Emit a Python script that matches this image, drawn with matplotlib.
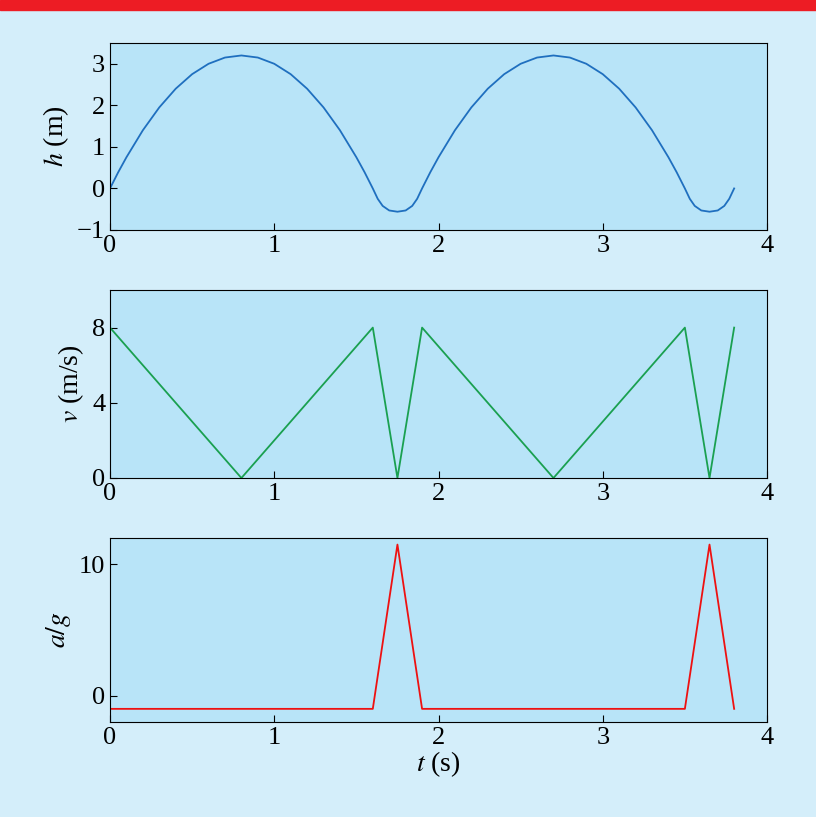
import matplotlib
matplotlib.use("Agg")
import matplotlib.pyplot as plt

t_h = [0,0.05,0.1,0.2,0.3,0.4,0.5,0.6,0.7,0.8,0.9,1.0,1.1,1.2,1.3,1.4,1.5,1.55,1.6,1.63,1.66,1.7,1.75,1.8,1.84,1.87,1.9,
       1.95,2.0,2.1,2.2,2.3,2.4,2.5,2.6,2.7,2.8,2.9,3.0,3.1,3.2,3.3,3.4,3.45,3.5,3.53,3.56,3.6,3.65,3.7,3.74,3.77,3.8]
h = [0,0.39,0.75,1.4,1.95,2.4,2.75,3.0,3.15,3.2,3.15,3.0,2.75,2.4,1.95,1.4,0.75,0.39,0,-0.25,-0.42,-0.53,-0.56,-0.53,-0.42,-0.25,0,
     0.39,0.75,1.4,1.95,2.4,2.75,3.0,3.15,3.2,3.15,3.0,2.75,2.4,1.95,1.4,0.75,0.39,0,-0.25,-0.42,-0.53,-0.56,-0.53,-0.42,-0.25,0]
t_v = [0,0.8,1.6,1.75,1.9,2.7,3.5,3.65,3.8]
v = [8,0,8,0,8,0,8,0,8]
t_a = [0,1.6,1.75,1.9,3.5,3.65,3.8]
a = [-1,-1,11.5,-1,-1,11.5,-1]

plt.rcParams['font.family'] = ['Liberation Serif', 'DejaVu Serif']
plt.rcParams['mathtext.fontset'] = 'stix'
W, H = 816, 817
fig = plt.figure(figsize=(8.16, 8.17), dpi=100, facecolor='#d4eefa')
fig.patches.append(plt.Rectangle((0, 1-10/H), 1, 10/H, transform=fig.transFigure, color='#ed1c24'))

def mk(top, bot):
    ax = fig.add_axes([110/W, 1-bot/H, (767-110)/W, (bot-top)/H])
    ax.set_facecolor('#b8e4f8')
    ax.set_xlim(0, 4)
    ax.set_xticks([0,1,2,3,4])
    ax.tick_params(labelsize=19, direction='in', length=5)
    return ax

ax1 = mk(43, 230)
ax1.plot(t_h, h, color='#1f6fbf', lw=1.3)
ax1.set_ylim(-1, 3.5); ax1.set_yticks([-1,0,1,2,3])
ax1.set_yticklabels(['\u22121','0','1','2','3'])
ax1.set_ylabel('$h$ (m)', fontsize=20)

ax2 = mk(290, 478)
ax2.plot(t_v, v, color='#1aa050', lw=1.3)
ax2.set_ylim(0, 10); ax2.set_yticks([0,4,8])
ax2.set_ylabel('$v$ (m/s)', fontsize=20)

ax3 = mk(538, 722)
ax3.plot(t_a, a, color='#ee1111', lw=1.3)
ax3.set_ylim(-2, 12); ax3.set_yticks([0,10])
ax3.set_ylabel('$a/g$', fontsize=20)
ax3.set_xlabel('$t$ (s)', fontsize=20, labelpad=0)

fig.savefig('out.png', dpi=100, facecolor=fig.get_facecolor())
